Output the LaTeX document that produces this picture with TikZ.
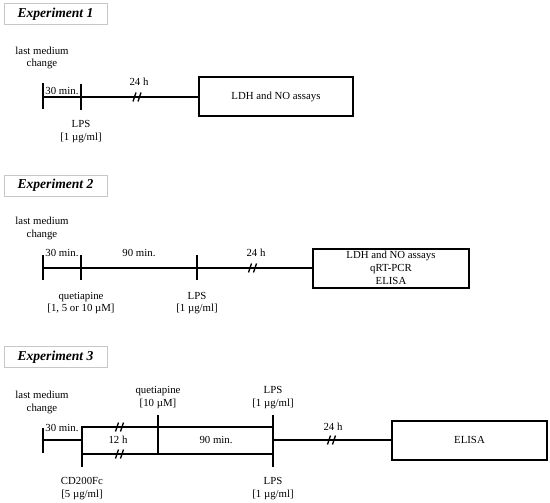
\documentclass[tikz,border=0pt]{standalone}
\usepackage{fontspec}
\setmainfont{Liberation Serif}
\begin{document}
\begin{tikzpicture}[x=1pt,y=-1pt,
  lbl/.style={font=\fontsize{10.8}{13}\selectfont, inner sep=0pt, anchor=base},
  ttl/.style={draw=black!22, line width=0.8pt, font=\fontsize{13.6}{16}\selectfont\bfseries\itshape,
    minimum width=103pt, minimum height=21pt, inner sep=0pt},
  resbox/.style={draw, line width=2pt, font=\fontsize{10.8}{13}\selectfont, inner sep=0pt,
    minimum height=39pt, align=center},
  tl/.style={line width=2pt},
  tickln/.style={line width=2pt},
  brk/.pic={\draw[line width=1.3pt] (-4.5,4.5) -- (-1.5,-4.5) (0.5,4.5) -- (3.5,-4.5);}
]
\useasboundingbox (0,0) rectangle (550,503);

% ---------------- Experiment 1 ----------------
\node[ttl] (t1) at (55.5,14) {Experiment 1};
\node[lbl] (lm1) at (42,55) {last medium};
\node[lbl] (ch1) at (42,67) {change};
\coordinate (a1) at (43,97);
\coordinate (b1) at (81,97);
\node[resbox, minimum width=154pt] (r1) at (276,97) {LDH and NO assays};
\draw[tl] (a1) -- (r1.west);
\draw[tickln] (43,83) -- (43,109);
\draw[tickln] (81,84) -- (81,110);
\pic at (137.5,97) {brk};
\node[lbl] (m1) at (62,95) {30 min.};
\node[lbl] (h1) at (139,86) {24 h};
\node[lbl] (lps1) at (81,128) {LPS};
\node[lbl] (c1) at (81,141) {[1 µg/ml]};

% ---------------- Experiment 2 ----------------
\node[ttl] (t2) at (55.5,185.5) {Experiment 2};
\node[lbl] (lm2) at (42,225) {last medium};
\node[lbl] (ch2) at (42,237) {change};
\coordinate (a2) at (43,268);
\node[resbox, minimum width=156pt] (r2) at (391,268) {LDH and NO assays\\qRT-PCR\\ELISA};
\draw[tl] (a2) -- (r2.west);
\draw[tickln] (43,255) -- (43,280);
\draw[tickln] (81,255) -- (81,280);
\draw[tickln] (197,255) -- (197,280);
\pic at (253,268) {brk};
\node[lbl] (m2) at (62,256) {30 min.};
\node[lbl] (n2) at (139,256) {90 min.};
\node[lbl] (h2) at (256,256) {24 h};
\node[lbl] (q2) at (81,299) {quetiapine};
\node[lbl] (qc2) at (81,312) {[1, 5 or 10 µM]};
\node[lbl] (lps2) at (197,299) {LPS};
\node[lbl] (c2) at (197,312) {[1 µg/ml]};

% ---------------- Experiment 3 ----------------
\node[ttl] (t3) at (55.5,357) {Experiment 3};
\node[lbl] (lm3) at (42,398) {last medium};
\node[lbl] (ch3) at (42,411) {change};
\coordinate (a3) at (43,440);
\coordinate (b3) at (82,440);
\coordinate (bu) at (82,427);
\coordinate (bl) at (82,454);
\coordinate (eu) at (273,427);
\coordinate (el) at (273,454);
\coordinate (e3) at (273,440);
\node[resbox, minimum width=155pt] (r3) at (469.5,440) {ELISA};
\draw[tl] (a3) -- (b3);
\draw[tl] (bu) -- (eu);
\draw[tl] (bl) -- (el);
\draw[tl] (e3) -- (r3.west);
\draw[tickln] (43,428) -- (43,453);
\draw[tickln] (82,426) -- (82,467);
\draw[tickln] (158,415) -- (158,454);
\draw[tickln] (273,415) -- (273,467);
\pic at (120,427) {brk};
\pic at (120,454) {brk};
\pic at (332,440) {brk};
\node[lbl] (m3) at (62,431) {30 min.};
\node[lbl] (h3a) at (118,443) {12 h};
\node[lbl] (n3) at (216,443) {90 min.};
\node[lbl] (h3b) at (333,430) {24 h};
\node[lbl] (q3) at (158,393) {quetiapine};
\node[lbl] (qc3) at (158,406) {[10 µM]};
\node[lbl] (lps3a) at (273,393) {LPS};
\node[lbl] (c3a) at (273,406) {[1 µg/ml]};
\node[lbl] (lps3b) at (273,484) {LPS};
\node[lbl] (c3b) at (273,497) {[1 µg/ml]};
\node[lbl] (cd3) at (82,484) {CD200Fc};
\node[lbl] (cdc3) at (82,497) {[5 µg/ml]};
\end{tikzpicture}
\end{document}
